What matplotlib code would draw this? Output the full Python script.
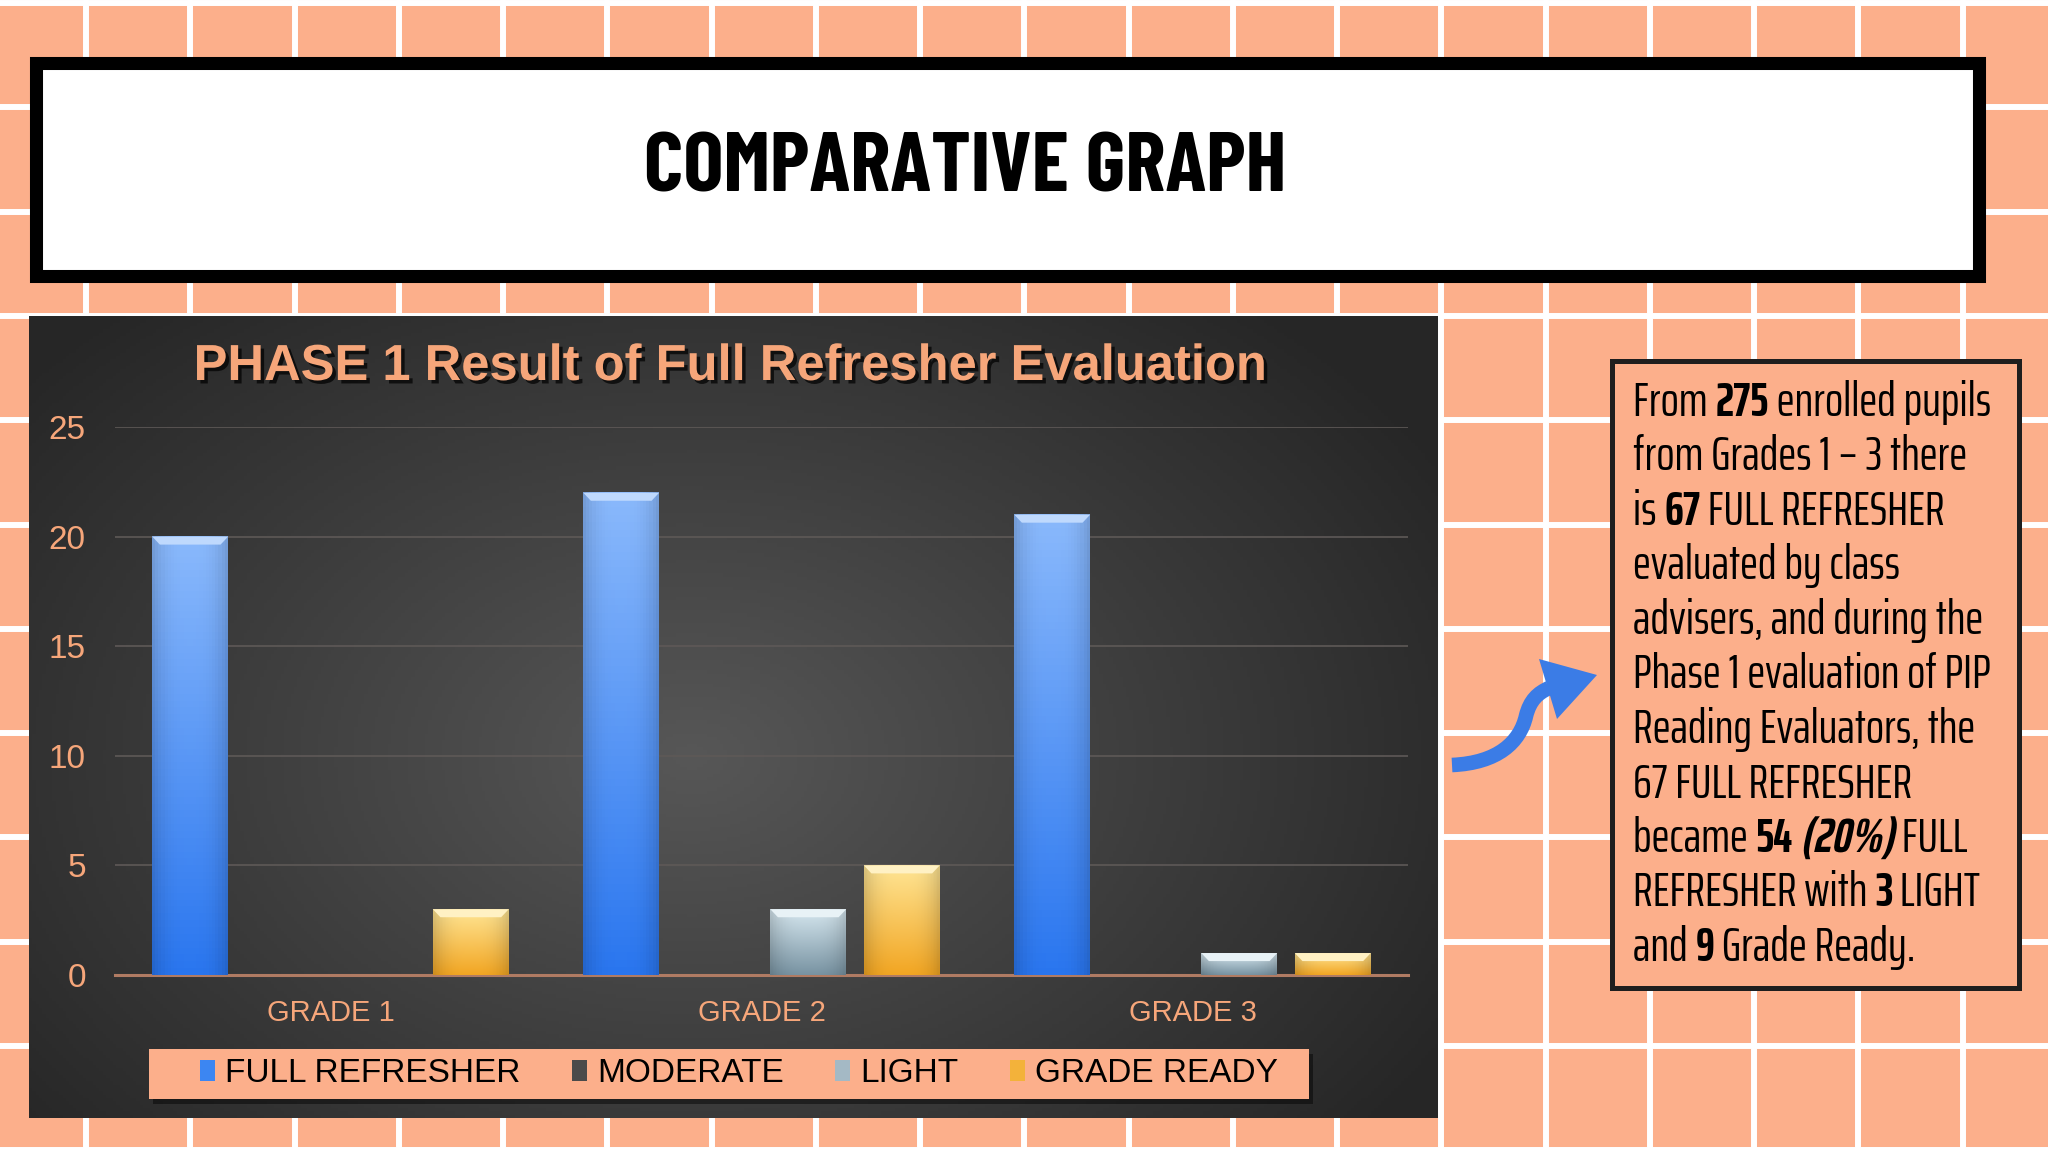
import os
import numpy as np
import matplotlib
matplotlib.use("Agg")
import matplotlib.pyplot as plt
import matplotlib.patheffects as pe
from matplotlib import font_manager
from matplotlib.font_manager import FontProperties
from matplotlib.patches import Rectangle, Polygon, PathPatch, Patch
from matplotlib.path import Path
from matplotlib.textpath import TextPath
from matplotlib.transforms import Affine2D

# --- data ---
grades = ["GRADE 1", "GRADE 2", "GRADE 3"]
series_names = ["FULL REFRESHER", "MODERATE", "LIGHT", "GRADE READY"]
full_refresher = [20, 22, 21]
moderate = [0, 0, 0]
light = [0, 3, 1]
grade_ready = [3, 5, 1]
y_ticks = [0, 5, 10, 15, 20, 25]

page_title = "COMPARATIVE GRAPH"
chart_title = "PHASE 1 Result of Full Refresher Evaluation"
# (text, style) : n = normal, b = bold, bi = bold italic
note_lines = [
    [("From ", "n"), ("275", "b"), (" enrolled pupils", "n")],
    [("from Grades 1 \u2013 3 there", "n")],
    [("is ", "n"), ("67", "b"), (" FULL REFRESHER", "n")],
    [("evaluated by class", "n")],
    [("advisers, and during the", "n")],
    [("Phase 1 evaluation of PIP", "n")],
    [("Reading Evaluators, the", "n")],
    [("67 FULL REFRESHER", "n")],
    [("became ", "n"), ("54", "b"), (" ", "n"), ("(20%)", "bi"), (" FULL", "n")],
    [("REFRESHER with ", "n"), ("3", "b"), (" LIGHT", "n")],
    [("and ", "n"), ("9", "b"), (" Grade Ready.", "n")],
]

# colours
SALMON = "#FCAF8B"
LABEL = "#F6A67A"
bar_colors = [("#8AB9FC", "#2A76EF"),   # full refresher
              ("#8C8C8C", "#383838"),   # moderate
              ("#D6E7EF", "#7893A2"),   # light
              ("#FFE594", "#F2A623")]   # grade ready
legend_colors = ["#3C86F2", "#4A4A4A", "#A4B9C5", "#F3B23A"]

names = {f.name for f in font_manager.fontManager.ttflist}
SANS = "Liberation Sans" if "Liberation Sans" in names else "DejaVu Sans"


def font_file(family, weight=400, italic=False):
    best = None
    for f in font_manager.fontManager.ttflist:
        if f.name != family:
            continue
        w = f.weight if isinstance(f.weight, int) else font_manager.weight_dict.get(f.weight, 400)
        score = abs(w - weight) + (0 if (f.style != "normal") == italic else 1000)
        if best is None or score < best[0]:
            best = (score, f.fname)
    if best is None or best[0] % 1000 >= 100:
        return None
    if best[0] >= 1000 and italic:
        return None
    return best[1]


def ink(s, fname, size):
    ext = TextPath((0, 0), s, size=size, prop=FontProperties(fname=fname)).get_extents()
    return ext.width * 100 / 72, ext.height * 100 / 72


def pick_font(candidates, sample, target_w, target_cap, weights):
    # choose the condensed face whose proportions best match the reference
    best = None
    for fam in candidates:
        files = [font_file(fam, w) for w in weights]
        if any(fn is None for fn in files):
            continue
        fn = files[0]
        size = 40 * target_w / ink(sample, fn, 40)[0]
        cap = ink("H", fn, size)[1]
        if best is None or abs(cap - target_cap) < best[0]:
            best = (abs(cap - target_cap), fam, size)
    return best[1], best[2]


condensed = ["Oswald", "Saira Condensed", "Saira ExtraCondensed", "Roboto Condensed",
             "Barlow Condensed", "Saira SemiCondensed", "Pragati Narrow"]
TITLE_FAM, TITLE_SIZE = pick_font(condensed, page_title, 636, 60, [700])
NOTE_FAM, NOTE_SIZE = pick_font(condensed, "From 275 enrolled pupils", 350, 33, [400, 700])


class Shear(pe.AbstractPathEffect):
    def __init__(self, slant):
        super().__init__()
        self.slant = slant

    def draw_path(self, renderer, gc, tpath, affine, rgbFace=None):
        y0 = affine.transform((0, 0))[1]
        t = affine + Affine2D().translate(0, -y0).skew(self.slant, 0).translate(0, y0)
        renderer.draw_path(gc, tpath, t, rgbFace)


fig = plt.figure(figsize=(20.48, 11.52), dpi=100)
fig.patch.set_facecolor(SALMON)

# background / decoration axes in pixel coordinates
bg = fig.add_axes([0, 0, 1, 1], zorder=0)
bg.set_xlim(0, 2048)
bg.set_ylim(1152, 0)
bg.axis("off")

# white tile grid
for k in range(-1, 21):
    bg.axvline(86 + 104.25 * k, color="white", lw=4.3, zorder=1)
for k in range(0, 12):
    bg.axhline(3 + 104.3 * k, color="white", lw=4.3, zorder=1)

# title banner
bg.add_patch(Rectangle((35.5, 62.5), 1943, 213, facecolor="white",
                       edgecolor="black", lw=9.4, zorder=3))
bg.text(965, 192, page_title, ha="center", va="baseline", color="black", zorder=4,
        fontproperties=FontProperties(fname=font_file(TITLE_FAM, 700), size=TITLE_SIZE))

# chart panel with radial shading
gy, gx = np.mgrid[0:1:240j, 0:1:420j]
d = np.clip(np.sqrt(((gx - 0.47) / 0.62) ** 2 + ((gy - 0.55) / 0.75) ** 2), 0, 1)
c_in = np.array([0x57, 0x57, 0x57]) / 255
c_out = np.array([0x26, 0x26, 0x26]) / 255
panel = c_in * (1 - d[..., None]) + c_out * d[..., None]
bg.imshow(panel, extent=(29, 1438, 1118, 316), aspect="auto", zorder=2)
bg.set_xlim(0, 2048)
bg.set_ylim(1152, 0)

bg.text(731, 380, chart_title, ha="center", va="baseline", fontsize=36.5,
        weight="bold", family=SANS, color=LABEL, zorder=4,
        path_effects=[pe.withSimplePatchShadow(offset=(2.5, -2.5),
                                               shadow_rgbFace="black", alpha=0.7)])

# legend strip
bg.add_patch(Rectangle((153, 1054), 1160, 50, facecolor="black", alpha=0.45,
                       lw=0, zorder=3))
bg.add_patch(Rectangle((149, 1049), 1160, 50, facecolor=SALMON, lw=0, zorder=4))

# note box
bg.add_patch(Rectangle((1611.5, 360.5), 407, 627, facecolor=SALMON,
                       edgecolor="#1E1E1E", lw=3.6, zorder=3))

# curved arrow
arrow = Path([(1452, 765), (1498, 763), (1520, 742), (1526, 716),
              (1530, 700), (1538, 693), (1549, 688)],
             [Path.MOVETO, Path.CURVE4, Path.CURVE4, Path.CURVE4,
              Path.CURVE4, Path.CURVE4, Path.CURVE4])
bg.add_patch(PathPatch(arrow, fill=False, edgecolor="#3B7CE6", lw=10.5,
                       capstyle="butt", zorder=3))
bg.add_patch(Polygon([(1597, 675), (1539, 659), (1557, 719)], closed=True,
                     facecolor="#3B7CE6", edgecolor="none", zorder=3))

# --- bar chart ---
ax = fig.add_axes([115 / 2048, 1 - 975 / 1152, 1293 / 2048, 548 / 1152], zorder=1)
ax.set_facecolor("none")
x = np.arange(len(grades))
width = 0.176
step = 0.217
series = [full_refresher, moderate, light, grade_ready]

ax.set_xlim(-0.5, 2.5)
ax.set_ylim(0, 25)
fig.canvas.draw()
px_per_unit = ax.transData.transform((0, 1))[1] - ax.transData.transform((0, 0))[1]

for i, vals in enumerate(series):
    top_c, bot_c = [np.array(matplotlib.colors.to_rgb(c)) for c in bar_colors[i]]
    bars = ax.bar(x + (i - 1.5) * step, vals, width, color=bot_c, zorder=2)
    for b in bars:
        h = b.get_height()
        if h <= 0:
            continue
        x0, w = b.get_x(), b.get_width()
        ty, tx = np.mgrid[0:1:64j, 0:1:24j]
        img = top_c * (1 - ty[..., None]) + bot_c * ty[..., None]
        img = img * (1 - 0.15 * (np.abs(tx - 0.5) * 2) ** 3)[..., None]
        ax.imshow(img, extent=(x0, x0 + w, 0, h), aspect="auto", zorder=3)
        bh = 8 / px_per_unit
        dx = w * 0.1
        hi = 0.55 * top_c + 0.45
        ax.add_patch(Polygon([(x0, h), (x0 + w, h), (x0 + w - dx, h - bh),
                              (x0 + dx, h - bh)], closed=True,
                             facecolor=hi, edgecolor="none", zorder=4))

ax.set_xlim(-0.5, 2.5)
ax.set_ylim(0, 25)
ax.set_aspect("auto")
ax.set_yticks(y_ticks)
ax.set_xticks(x, grades)
ax.tick_params(axis="y", length=0, pad=21, labelsize=24, labelcolor=LABEL)
ax.tick_params(axis="x", length=0, pad=17, labelsize=21, labelcolor=LABEL)
for lab in ax.get_xticklabels() + ax.get_yticklabels():
    lab.set_family(SANS)
ax.yaxis.grid(True, color="#5E5957", lw=1.2)
ax.set_axisbelow(True)
for s in ["top", "right", "left"]:
    ax.spines[s].set_visible(False)
ax.spines["bottom"].set_color("#B07B63")
ax.spines["bottom"].set_linewidth(2.2)

handles = [Patch(facecolor=c, edgecolor="none") for c in legend_colors]
fig.legend(handles, series_names, loc="center",
           bbox_to_anchor=(739 / 2048, 1 - 1074 / 1152), ncol=4, frameon=False,
           prop={"family": SANS, "size": 24}, handlelength=0.45, handleheight=0.6,
           handletextpad=0.3, columnspacing=1.55)

# --- note text with mixed weights ---
r = fig.canvas.get_renderer()
note_fonts = {"n": (400, False), "b": (700, False), "bi": (700, True)}


def note_props(st):
    wt, it = note_fonts[st]
    fn = font_file(NOTE_FAM, wt, it)
    effects = []
    if it and fn is None:
        fn = font_file(NOTE_FAM, wt)
        effects = [Shear(0.22)]
    return FontProperties(fname=fn, size=NOTE_SIZE), effects


def seg_width(s, fp):
    t1 = bg.text(0, 0, "|" + s + "|", fontproperties=fp)
    t2 = bg.text(0, 0, "||", fontproperties=fp)
    w = t1.get_window_extent(r).width - t2.get_window_extent(r).width
    t1.remove()
    t2.remove()
    return w


for li, line in enumerate(note_lines):
    xpos = 1633
    ypos = 416 + 54.5 * li
    for text, st in line:
        fp, effects = note_props(st)
        bg.text(xpos, ypos, text, ha="left", va="baseline", zorder=5, color="black",
                fontproperties=fp, path_effects=effects or None)
        xpos += seg_width(text, fp)

fig.savefig("out.png", dpi=100, facecolor=fig.get_facecolor())
